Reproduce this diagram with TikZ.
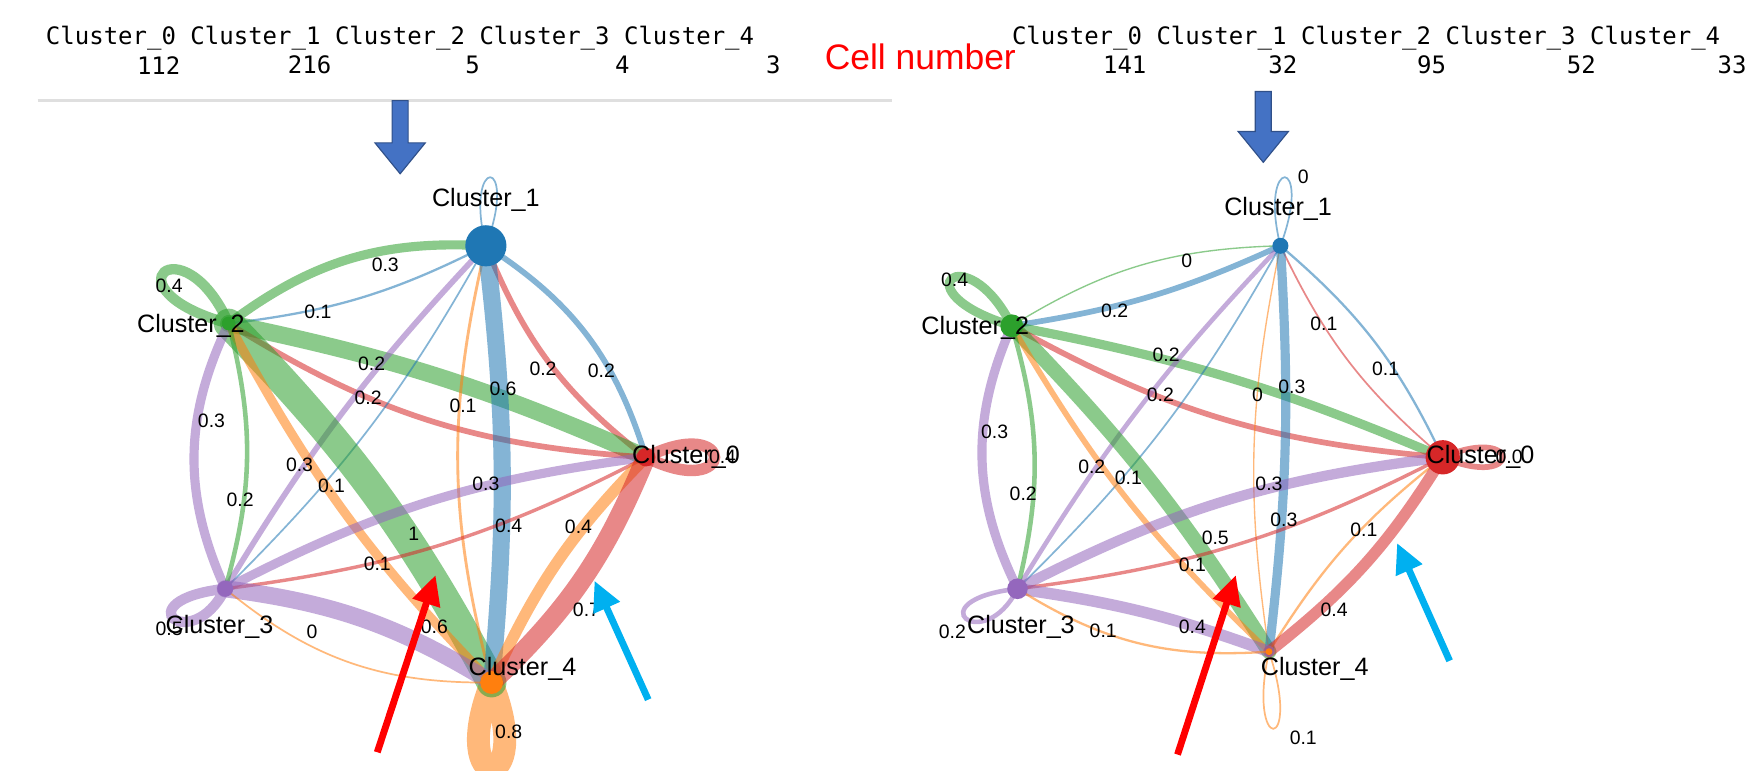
\documentclass[tikz,border=0pt]{standalone}
\usepackage{fontspec}
\setmainfont{Liberation Sans}
\newfontfamily\monof{DejaVu Sans Mono}
\usetikzlibrary{arrows.meta}
\definecolor{cb}{HTML}{1F77B4}
\definecolor{cg}{HTML}{2CA02C}
\definecolor{cr}{HTML}{D62728}
\definecolor{cp}{HTML}{9467BD}
\definecolor{co}{HTML}{FF7F0E}
\definecolor{barrow}{HTML}{4472C4}
\definecolor{skyarrow}{HTML}{00B0F0}
\tikzset{
  eg/.style={draw=#1,opacity=0.55,line cap=round},
  bl/.style={bend left=#1},
  br/.style={bend right=#1},
  vtx/.style={circle,fill=#1,inner sep=0pt},
  cl/.style={font=\fontsize{22}{24}\selectfont,inner sep=1pt},
  el/.style={font=\fontsize{17}{19}\selectfont,inner sep=0pt},
  mono/.style={font=\monof\fontsize{21}{23}\selectfont,inner sep=0pt},
  down/.style={fill=barrow,draw=barrow!70!black,line width=1},
  pointer/.style={line width=6,-{Triangle[length=26,width=24]}},
}
\newcommand\elab[4]{\node[el] (#1) at (#2,#3) {#4};}
\begin{document}
\begin{tikzpicture}[x=1pt,y=-1pt]
\useasboundingbox[fill=white] (0,0) rectangle (1536,674);
% ---------- top tables
\node[mono,anchor=west] (ltop) at (40,33) {Cluster\_0 Cluster\_1 Cluster\_2 Cluster\_3 Cluster\_4};
\node[mono,anchor=east] (ln0) at (158,57) {112};
\node[mono,anchor=east] (ln1) at (290,57) {216};
\node[mono,anchor=east] (ln2) at (420,57) {5};
\node[mono,anchor=east] (ln3) at (551,57) {4};
\node[mono,anchor=east] (ln4) at (683,57) {3};
\node[mono,anchor=west] (rtop) at (885,33) {Cluster\_0 Cluster\_1 Cluster\_2 Cluster\_3 Cluster\_4};
\node[mono,anchor=east] (rn0) at (1003,57) {141};
\node[mono,anchor=east] (rn1) at (1135,57) {32};
\node[mono,anchor=east] (rn2) at (1265,57) {95};
\node[mono,anchor=east] (rn3) at (1396,57) {52};
\node[mono,anchor=east] (rn4) at (1528,57) {33};
\node[font=\fontsize{31}{33}\selectfont,text=red,inner sep=0pt] (cell) at (805,50) {Cell number};
\draw[gray!25,line width=3] (33,88) -- (780,88);
% ---------- blue block arrows
\draw[down] (343,88) -- (357,88) -- (357,125) -- (372,125) -- (350,152) -- (328,125) -- (343,125) -- cycle;
\draw[down] (1098,80) -- (1112,80) -- (1112,115) -- (1127,115) -- (1105,142) -- (1083,115) -- (1098,115) -- cycle;
% ---------- left graph vertices (coordinates)
\coordinate (l1) at (425,215);
\coordinate (l2) at (200,283);
\coordinate (l0) at (565,400);
\coordinate (l3) at (197,515);
\coordinate (l4) at (430,597);
% loops
\draw[eg=cg,line width=9] (l2) .. controls +(-110,-30) and +(-40,-90) .. (l2);
\draw[eg=cp,line width=9] (l3) .. controls +(-90,10) and +(-30,60) .. (l3);
\draw[eg=co,line width=20] (l4) .. controls +(-40,100) and +(40,100) .. (l4);
\draw[eg=cr,line width=10] (l0) .. controls +(80,-40) and +(80,40) .. (l0);
\draw[eg=cb,line width=1.5] (l1) .. controls +(-20,-80) and +(30,-80) .. (l1);
% edges
\draw[eg=cg,line width=8] (l2) to[bl=20] (l1);
\draw[eg=cb,line width=2] (l2) to[br=10] (l1);
\draw[eg=cr,line width=5] (l1) to[br=15] (l0);
\draw[eg=cb,line width=5] (l1) to[bl=20] (l0);
\draw[eg=cg,line width=15] (l2) to[bl=6] (l0);
\draw[eg=cr,line width=5] (l2) to[br=14] (l0);
\draw[eg=cp,line width=5] (l1) to[br=6] (l3);
\draw[eg=cb,line width=1.5] (l1) to[bl=8] (l3);
\draw[eg=cg,line width=26] (l2) to[bl=8] (l4);
\draw[eg=co,line width=8] (l2) to[br=8] (l4);
\draw[eg=cp,line width=8] (l2) to[br=25] (l3);
\draw[eg=cg,line width=4] (l2) to[bl=15] (l3);
\draw[eg=co,line width=2.5] (l1) to[br=14] (l4);
\draw[eg=cb,line width=15] (l1) to[bl=6] (l4);
\draw[eg=cp,line width=8] (l3) to[bl=10] (l0);
\draw[eg=cr,line width=3] (l3) to[br=10] (l0);
\draw[eg=co,line width=10] (l0) to[br=10] (l4);
\draw[eg=cr,line width=17] (l0) to[bl=12] (l4);
\draw[eg=cp,line width=15] (l3) to[bl=12] (l4);
\draw[eg=co,line width=1.5] (l3) to[br=20] (l4);
% vertex dots
\node[vtx=cb,minimum size=36] (L1) at (l1) {};
\node[vtx=cg,minimum size=12] (L2) at (l2) {};
\node[vtx=cr,minimum size=16] (L0) at (l0) {};
\node[vtx=cp,minimum size=14] (L3) at (l3) {};
\node[vtx=co,minimum size=20] (L4) at (l4) {};
% vertex labels
\node[cl] (tl1) at (425,175) {Cluster\_1};
\node[cl] (tl2) at (167,285) {Cluster\_2};
\node[cl] (tl0) at (600,400) {Cluster\_0};
\node[cl] (tl3) at (192,548) {Cluster\_3};
\node[cl] (tl4) at (457,585) {Cluster\_4};
% edge labels
\elab{a1}{337}{232}{0.3}
\elab{a2}{278}{273}{0.1}
\elab{a3}{148}{250}{0.4}
\elab{a4}{475}{323}{0.2}
\elab{a5}{526}{324}{0.2}
\elab{a6}{440}{340}{0.6}
\elab{a7}{322}{348}{0.2}
\elab{a8}{325}{318}{0.2}
\elab{a9}{290}{425}{0.1}
\elab{a10}{362}{467}{1}
\elab{a11}{262}{407}{0.3}
\elab{a12}{185}{368}{0.3}
\elab{a13}{210}{437}{0.2}
\elab{a14}{405}{355}{0.1}
\elab{a15}{445}{460}{0.4}
\elab{a16}{425}{423}{0.3}
\elab{a17}{330}{493}{0.1}
\elab{a18}{506}{461}{0.4}
\elab{a19}{513}{533}{0.7}
\elab{a20}{380}{548}{0.6}
\elab{a21}{273}{553}{0}
\elab{a22}{148}{550}{0.5}
\elab{a23}{445}{640}{0.8}
\elab{a24}{632}{400}{0.4}
% ---------- right graph
\coordinate (r1) at (1120,215);
\coordinate (r2) at (885,285);
\coordinate (r0) at (1262,400);
\coordinate (r3) at (890,515);
\coordinate (r4) at (1110,570);
\draw[eg=cg,line width=8] (r2) .. controls +(-100,-30) and +(-40,-80) .. (r2);
\draw[eg=cp,line width=4] (r3) .. controls +(-90,10) and +(-30,60) .. (r3);
\draw[eg=co,line width=1.5] (r4) .. controls +(-20,90) and +(30,90) .. (r4);
\draw[eg=cr,line width=5] (r0) .. controls +(70,-30) and +(70,30) .. (r0);
\draw[eg=cb,line width=1.5] (r1) .. controls +(-20,-80) and +(30,-80) .. (r1);
\draw[eg=cg,line width=1.2] (r2) to[bl=15] (r1);
\draw[eg=cb,line width=5] (r2) to[br=8] (r1);
\draw[eg=cr,line width=1.5] (r1) to[br=12] (r0);
\draw[eg=cb,line width=2] (r1) to[bl=12] (r0);
\draw[eg=cg,line width=8] (r2) to[bl=6] (r0);
\draw[eg=cr,line width=5] (r2) to[br=12] (r0);
\draw[eg=cp,line width=4] (r1) to[br=6] (r3);
\draw[eg=cb,line width=1.5] (r1) to[bl=8] (r3);
\draw[eg=cg,line width=13] (r2) to[bl=6] (r4);
\draw[eg=co,line width=5] (r2) to[br=8] (r4);
\draw[eg=cp,line width=8] (r2) to[br=25] (r3);
\draw[eg=cg,line width=4] (r2) to[bl=15] (r3);
\draw[eg=co,line width=1.2] (r1) to[br=10] (r4);
\draw[eg=cb,line width=8] (r1) to[bl=5] (r4);
\draw[eg=cp,line width=9] (r3) to[bl=10] (r0);
\draw[eg=cr,line width=3] (r3) to[br=10] (r0);
\draw[eg=co,line width=2] (r0) to[br=10] (r4);
\draw[eg=cr,line width=10] (r0) to[bl=10] (r4);
\draw[eg=cp,line width=10] (r3) to[bl=6] (r4);
\draw[eg=co,line width=2] (r3) to[br=18] (r4);
\node[vtx=cb,minimum size=14] (R1) at (r1) {};
\node[vtx=cg,minimum size=20] (R2) at (r2) {};
\node[vtx=cr,minimum size=30] (R0) at (r0) {};
\node[vtx=cp,minimum size=18] (R3) at (r3) {};
\node[vtx=co,minimum size=6] (R4) at (r4) {};
\node[cl] (tr1) at (1118,183) {Cluster\_1};
\node[cl] (tr2) at (853,287) {Cluster\_2};
\node[cl] (tr0) at (1295,400) {Cluster\_0};
\node[cl] (tr3) at (893,548) {Cluster\_3};
\node[cl] (tr4) at (1150,585) {Cluster\_4};
\elab{b0}{1140}{155}{0}
\elab{b1}{1038}{228}{0}
\elab{b2}{975}{272}{0.2}
\elab{b3}{835}{245}{0.4}
\elab{b4}{1158}{283}{0.1}
\elab{b5}{1212}{323}{0.1}
\elab{b6}{1130}{338}{0.3}
\elab{b7}{1015}{345}{0.2}
\elab{b8}{1020}{310}{0.2}
\elab{b9}{987}{418}{0.1}
\elab{b10}{1063}{470}{0.5}
\elab{b11}{955}{408}{0.2}
\elab{b12}{870}{378}{0.3}
\elab{b13}{895}{432}{0.2}
\elab{b14}{1100}{345}{0}
\elab{b15}{1123}{455}{0.3}
\elab{b16}{1110}{423}{0.3}
\elab{b17}{1043}{494}{0.1}
\elab{b18}{1193}{463}{0.1}
\elab{b19}{1167}{533}{0.4}
\elab{b20}{1043}{548}{0.4}
\elab{b21}{965}{552}{0.1}
\elab{b22}{833}{553}{0.2}
\elab{b23}{1140}{645}{0.1}
\elab{b24}{1320}{400}{0.0}
% ---------- pointer arrows
\coordinate (p1s) at (330,658); \coordinate (p1e) at (381,503);
\coordinate (p2s) at (567,612); \coordinate (p2e) at (520,508);
\coordinate (p3s) at (1030,660); \coordinate (p3e) at (1081,503);
\coordinate (p4s) at (1268,578); \coordinate (p4e) at (1222,475);
\draw[pointer,red] (p1s) -- (p1e);
\draw[pointer,skyarrow] (p2s) -- (p2e);
\draw[pointer,red] (p3s) -- (p3e);
\draw[pointer,skyarrow] (p4s) -- (p4e);
\end{tikzpicture}
\end{document}
